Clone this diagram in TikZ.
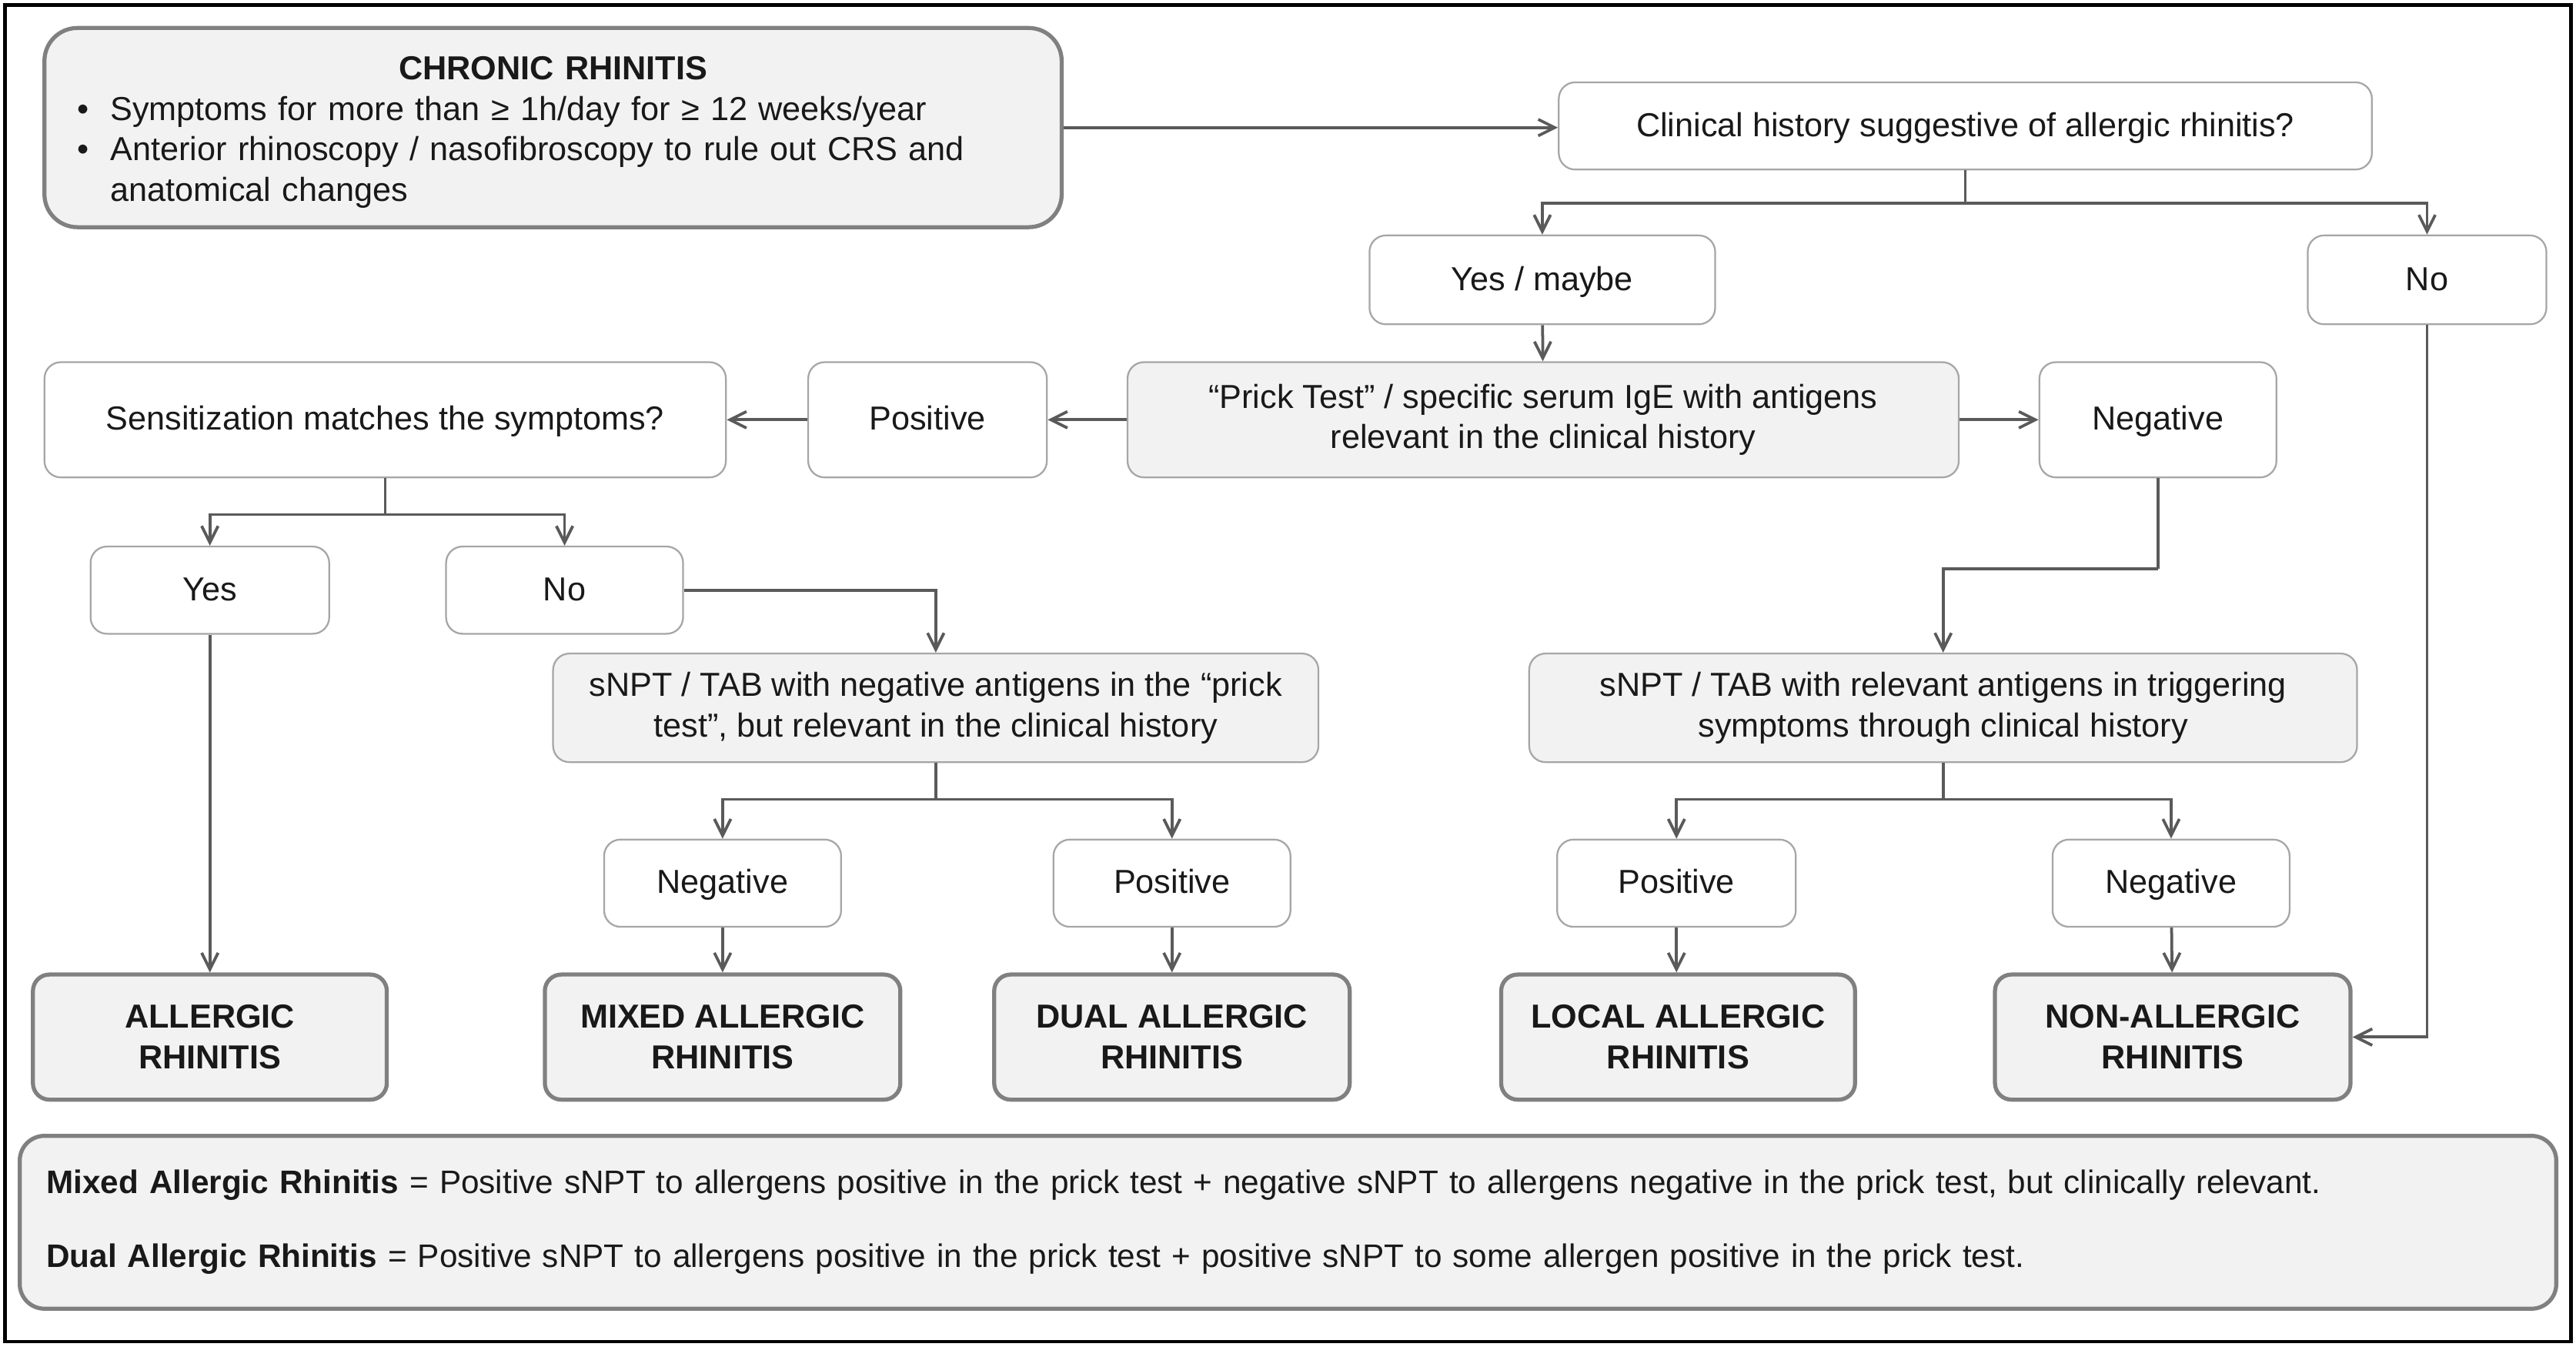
\documentclass[tikz,border=0pt]{standalone}
\usepackage{fontspec}
\setmainfont{Liberation Sans}
\usetikzlibrary{arrows.meta}

\definecolor{boxfill}{HTML}{F2F2F2}
\definecolor{boxline}{HTML}{A6A6A6}
\definecolor{endline}{HTML}{808080}
\definecolor{linkgray}{HTML}{5A5A5A}

\begin{document}
\begin{tikzpicture}[x=0.02cm,y=-0.02cm,
	every node/.style={font=\fontsize{11.5}{14}\selectfont, text=black!90},
	boxsize/.style 2 args={minimum width=#1*0.02cm, minimum height=#2*0.02cm},
	box/.style={draw=boxline, line width=0.6pt, rounded corners=0.2cm, fill=white, align=center, inner sep=0pt},
	oneline/.style={box, text height=0.9em, text depth=0.18em},
	greybox/.style={box, fill=boxfill},
	endbox/.style={box, fill=boxfill, draw=endline, line width=1.4pt, font=\fontsize{11.5}{14}\selectfont\bfseries},
	link/.style={draw=linkgray, line width=1pt},
	arrow/.style={link, -{Straight Barb[length=2mm,width=2mm]}}]

	\useasboundingbox (0,0) rectangle (1565,818);
	\draw[line width=1.2pt] (3,3) rectangle (1562,815);

	\node[endbox, boxsize={618}{121}, rounded corners=0.4cm, font=\fontsize{11.5}{14}\selectfont,
		text width=11.56cm, align=left] (chronic) at (336,77.5)
		{\rule{0pt}{0.4cm}{\centering\bfseries CHRONIC RHINITIS\par}
		\makebox[0.4cm][l]{\textbullet}Symptoms for more than ≥ 1h/day for ≥ 12 weeks/year\\
		\makebox[0.4cm][l]{\textbullet}Anterior rhinoscopy / nasofibroscopy to rule out CRS and\\
		\hspace*{0.4cm}anatomical changes};

	\node[oneline, boxsize={494}{53}] (clin) at (1194,76.5) {Clinical history suggestive of allergic rhinitis?};
	\node[oneline, boxsize={210}{54}] (yesmaybe) at (937,170) {Yes / maybe};
	\node[oneline, boxsize={145}{54}] (noA) at (1474.5,170) {No};

	\node[greybox, boxsize={505}{70}] (prick) at (937.5,255)
		{“Prick Test” / specific serum IgE with antigens\\relevant in the clinical history};
	\node[oneline, boxsize={145}{70}] (posA) at (563.5,255) {Positive};
	\node[oneline, boxsize={144}{70}] (negA) at (1311,255) {Negative};
	\node[oneline, boxsize={414}{70}] (sens) at (234,255) {Sensitization matches the symptoms?};

	\node[oneline, boxsize={145}{53}] (yesB) at (127.5,358.5) {Yes};
	\node[oneline, boxsize={144}{53}] (noB) at (343,358.5) {No};

	\node[greybox, boxsize={465}{66}] (snpt1) at (568.5,430)
		{sNPT / TAB with negative antigens in the “prick\\test”, but relevant in the clinical history};
	\node[greybox, boxsize={503}{66}] (snpt2) at (1180.5,430)
		{sNPT / TAB with relevant antigens in triggering\\symptoms through clinical history};

	\node[oneline, boxsize={144}{53}] (negC) at (439,536.5) {Negative};
	\node[oneline, boxsize={144}{53}] (posC) at (712,536.5) {Positive};
	\node[oneline, boxsize={145}{53}] (posD) at (1018.5,536.5) {Positive};
	\node[oneline, boxsize={144}{53}] (negD) at (1319,536.5) {Negative};

	\node[endbox, boxsize={215}{76}] (ar) at (127.5,630) {ALLERGIC\\RHINITIS};
	\node[endbox, boxsize={216}{76}] (mar) at (439,630) {MIXED ALLERGIC\\RHINITIS};
	\node[endbox, boxsize={216}{76}] (dar) at (712,630) {DUAL ALLERGIC\\RHINITIS};
	\node[endbox, boxsize={215}{76}] (lar) at (1019.5,630) {LOCAL ALLERGIC\\RHINITIS};
	\node[endbox, boxsize={216}{76}] (nar) at (1320,630) {NON-ALLERGIC\\RHINITIS};

	\node[endbox, boxsize={1541}{105}, rounded corners=0.3cm, font=\fontsize{11.25}{14}\selectfont,
		text width=30.18cm, align=left] (legend) at (782.5,742.5)
		{\textbf{Mixed Allergic Rhinitis} = Positive sNPT to allergens positive in the prick test + negative sNPT to allergens negative in the prick test, but clinically relevant.\\[11.5pt]
		\textbf{Dual Allergic Rhinitis} = Positive sNPT to allergens positive in the prick test + positive sNPT to some allergen positive in the prick test.};

	\draw[arrow] (chronic.east) -- (chronic.east -| clin.west);

	\draw[link] (clin.south) -- ++(0,20) coordinate (clinfork);
	\draw[arrow] (clinfork) -| (yesmaybe.north);
	\draw[arrow] (clinfork) -| (noA.north);

	\draw[arrow] (yesmaybe) -- (prick);
	\draw[arrow] (prick) -- (posA);
	\draw[arrow] (posA) -- (sens);
	\draw[arrow] (prick) -- (negA);

	\draw[link] (sens.south) -- ++(0,22) coordinate (sensfork);
	\draw[arrow] (sensfork) -| (yesB.north);
	\draw[arrow] (sensfork) -| (noB.north);

	\draw[arrow] (yesB) -- (ar);
	\draw[arrow] (noB.east) -| (snpt1.north);

	\draw[link] (snpt1.south) -- ++(0,22) coordinate (snptforkA);
	\draw[arrow] (snptforkA) -| (negC.north);
	\draw[arrow] (snptforkA) -| (posC.north);
	\draw[arrow] (negC) -- (mar);
	\draw[arrow] (posC) -- (dar);

	\draw[link] (negA.south) -- ++(0,55) coordinate (negbend);
	\draw[arrow] (negbend) -| (snpt2.north);

	\draw[link] (snpt2.south) -- ++(0,22) coordinate (snptforkB);
	\draw[arrow] (snptforkB) -| (posD.north);
	\draw[arrow] (snptforkB) -| (negD.north);
	\draw[arrow] (posD.south) -- (posD.south |- lar.north);
	\draw[arrow] (negD) -- (nar);

	\draw[arrow] (noA.south) |- (nar.east);
\end{tikzpicture}
\end{document}
